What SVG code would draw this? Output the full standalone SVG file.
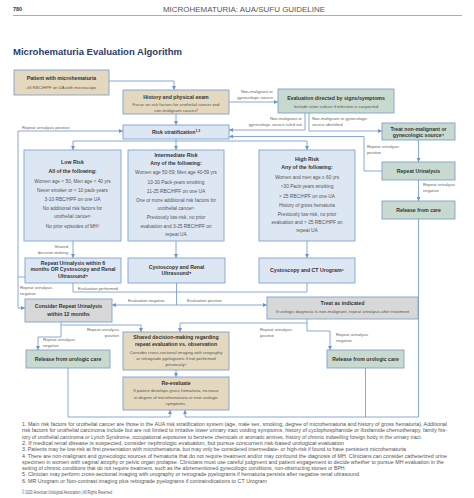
<svg xmlns="http://www.w3.org/2000/svg" width="474" height="498" viewBox="0 0 474 498">
<defs>
<style>
.bx{stroke:#7ea3d1;stroke-width:0.9}
.tan{fill:#e4d8be}.grn{fill:#c8d9cf}.blu{fill:#dde7f3}.gry{fill:#d8d8d8}
text{font-family:"Liberation Sans",Arial,sans-serif}
.h{font-size:5.2px;font-weight:bold;fill:#333;text-anchor:middle}
.b{font-size:4.3px;fill:#555;text-anchor:middle}
.r{font-size:4.8px;fill:#555;text-anchor:middle}
.l{font-size:4.2px;fill:#666}
.e{text-anchor:end}
.f{font-size:4.6px;fill:#555}
.c{fill:none;stroke:#7ba0cf;stroke-width:0.9}
</style>
<marker id="a" viewBox="0 0 6 6" refX="6" refY="3" markerWidth="4" markerHeight="4" orient="auto" markerUnits="userSpaceOnUse"><path d="M0,0 L6,3 L0,6z" fill="#6f96cc"/></marker>
</defs>
<rect width="474" height="498" fill="#fff"/>
<text x="13" y="11" style="font-size:5.5px;font-weight:bold;fill:#333">780</text>
<text x="244" y="11.5" style="font-size:6.8px;fill:#555;text-anchor:middle" textLength="162" lengthAdjust="spacingAndGlyphs">MICROHEMATURIA: AUA/SUFU GUIDELINE</text>
<line x1="13" y1="15.5" x2="462" y2="15.5" stroke="#999" stroke-width="0.8"/>
<text x="13" y="55" style="font-size:9.5px;font-weight:bold;fill:#2b3d6b" textLength="169" lengthAdjust="spacingAndGlyphs">Microhematuria Evaluation Algorithm</text>

<g id="connectors">
<path class="c" d="M109,81 H174 V90" marker-end="url(#a)"/>
<path class="c" d="M176,114 V125" marker-end="url(#a)"/>
<path class="c" d="M229,102 H278" marker-end="url(#a)"/>
<path class="c" d="M305,113 V130 H229" marker-end="url(#a)"/>
<path class="c" d="M309,113 V131 H382" marker-end="url(#a)"/>
<path class="c" d="M382,171 H364 V136.5 H229" marker-end="url(#a)"/>
<path class="c" d="M418.5,140 V162" marker-end="url(#a)"/>
<path class="c" d="M418.5,180 V201" marker-end="url(#a)"/>
<path class="c" d="M418.5,219 V417 H185 V410" marker-end="url(#a)"/>
<path class="c" d="M365.5,368 V417"/>
<path class="c" d="M68,368 V417 H170 V410" marker-end="url(#a)"/>
<path class="c" d="M176,139 V141"/>
<path class="c" d="M73,141 H307"/>
<path class="c" d="M73,141 V150" marker-end="url(#a)"/>
<path class="c" d="M176,141 V150" marker-end="url(#a)"/>
<path class="c" d="M307,141 V150" marker-end="url(#a)"/>
<path class="c" d="M73,241 V258" marker-end="url(#a)"/>
<path class="c" d="M176,241 V258" marker-end="url(#a)"/>
<path class="c" d="M307,241 V258" marker-end="url(#a)"/>
<path class="c" d="M25,277 H18 V131 H123" marker-end="url(#a)"/>
<path class="c" d="M18,277 V308 H25" marker-end="url(#a)"/>
<path class="c" d="M73,283 V292 H307 V283"/>
<path class="c" d="M176.5,283 V305 H112" marker-end="url(#a)"/>
<path class="c" d="M176.5,305 H267" marker-end="url(#a)"/>
<path class="c" d="M61,322 V325 H141 V332" marker-end="url(#a)"/>
<path class="c" d="M61,325 V337 H38 V350" marker-end="url(#a)"/>
<path class="c" d="M307,319 V323 H180 V332" marker-end="url(#a)"/>
<path class="c" d="M307,323 V331 H330 V350" marker-end="url(#a)"/>
<path class="c" d="M176,370 V377" marker-end="url(#a)"/>
</g>

<g id="labels">
<text class="l e" x="273" y="93">Non-malignant or</text>
<text class="l e" x="273" y="99">gynecologic source</text>
<text class="l e" x="302" y="120">Non-malignant or</text>
<text class="l e" x="302" y="126">gynecologic source ruled out</text>
<text class="l" x="312" y="120">Non-malignant or gynecologic</text>
<text class="l" x="312" y="126">source identified</text>
<text class="l" x="22" y="129">Repeat urinalysis positive</text>
<text class="l" x="367" y="148">Repeat urinalysis</text>
<text class="l" x="367" y="154">positive</text>
<text class="l" x="423" y="186">Repeat urinalysis</text>
<text class="l" x="423" y="192">negative</text>
<text class="l e" x="68" y="248">Shared</text>
<text class="l e" x="68" y="254">decision-making</text>
<text class="l" x="20" y="289">Repeat urinalysis</text>
<text class="l" x="20" y="295">negative</text>
<text class="l" x="78" y="290">Evaluation performed</text>
<text class="l" x="128" y="302">Evaluation negative</text>
<text class="l" x="187" y="302">Evaluation positive</text>
<text class="l e" x="119" y="331">Repeat urinalysis</text>
<text class="l e" x="119" y="337">positive</text>
<text class="l" x="43" y="341">Repeat urinalysis</text>
<text class="l" x="43" y="347">negative</text>
<text class="l" x="260" y="331">Repeat urinalysis</text>
<text class="l" x="260" y="337">positive</text>
<text class="l" x="336" y="336">Repeat urinalysis</text>
<text class="l" x="336" y="342">negative</text>
</g>

<g id="patient"><rect class="bx tan" x="14" y="70" width="95" height="25"/>
<text class="h" x="61.5" y="80">Patient with microhematuria</text>
<text class="b" x="61.5" y="88.5">≥3 RBC/HPF on UA with microscope</text></g>

<g id="history"><rect class="bx tan" x="123" y="90" width="106" height="24"/>
<text class="h" x="176" y="98.5">History and physical exam</text>
<text class="b" x="176" y="105.5">Focus on risk factors for urothelial cancer and</text>
<text class="b" x="176" y="111.5">non-malignant causes²</text></g>

<g id="evaluation"><rect class="bx grn" x="278" y="89" width="116" height="24"/>
<text class="h" x="336" y="99.5">Evaluation directed by signs/symptoms</text>
<text class="b" x="336" y="107.5">Include urine culture if infection is suspected</text></g>

<g id="risk"><rect class="bx blu" x="123" y="125" width="106" height="14"/>
<text class="h" x="176" y="134">Risk stratification<tspan font-size="3.4" dy="-1.8">1,3</tspan></text></g>

<g id="treat-nonmalignant"><rect class="bx grn" x="382" y="123" width="73" height="17"/>
<text class="h" x="418.5" y="130.5">Treat non-malignant or</text>
<text class="h" x="418.5" y="137">gynecologic source⁴</text></g>

<g id="repeat-ua"><rect class="bx grn" x="382" y="162" width="73" height="18"/>
<text class="h" x="418.5" y="172.8">Repeat Urinalysis</text></g>

<g id="release-care"><rect class="bx grn" x="382" y="201" width="73" height="18"/>
<text class="h" x="418.5" y="211.8">Release from care</text></g>

<g id="low"><rect class="bx blu" x="24" y="150" width="97" height="91"/>
<text class="h" x="72.5" y="164">Low Risk</text>
<text class="h" x="72.5" y="173">All of the following:</text>
<text class="r" x="72.5" y="182.5">Women age &lt; 50, Men age &lt; 40 yrs</text>
<text class="r" x="72.5" y="191.5">Never smoker or &lt; 10 pack-years</text>
<text class="r" x="72.5" y="200.5">3-10 RBC/HPF on one UA</text>
<text class="r" x="72.5" y="209.5">No additional risk factors for</text>
<text class="r" x="72.5" y="217.5">urothelial cancer¹</text>
<text class="r" x="72.5" y="227.5">No prior episodes of MH³</text></g>

<g id="intermediate"><rect class="bx blu" x="128" y="150" width="96" height="91"/>
<text class="h" x="176" y="157">Intermediate Risk</text>
<text class="h" x="176" y="165">Any of the following:</text>
<text class="r" x="176" y="174">Women age 50-59; Men age 40-59 yrs</text>
<text class="r" x="176" y="183.5">10-30 Pack-years smoking</text>
<text class="r" x="176" y="192.5">11-25 RBC/HPF on one UA</text>
<text class="r" x="176" y="202">One or more additional risk factors for</text>
<text class="r" x="176" y="210">urothelial cancer¹</text>
<text class="r" x="176" y="219">Previously low-risk, no prior</text>
<text class="r" x="176" y="227.5">evaluation and 3-25 RBC/HPF on</text>
<text class="r" x="176" y="236">repeat UA</text></g>

<g id="high"><rect class="bx blu" x="259" y="150" width="96" height="91"/>
<text class="h" x="307" y="161">High Risk</text>
<text class="h" x="307" y="169">Any of the following:</text>
<text class="r" x="307" y="178.5">Women and men age ≥ 60 yrs</text>
<text class="r" x="307" y="188">&gt;30 Pack-years smoking</text>
<text class="r" x="307" y="197.5">&gt; 25 RBC/HPF on one UA</text>
<text class="r" x="307" y="207">History of gross hematuria</text>
<text class="r" x="307" y="216">Previously low-risk, no prior</text>
<text class="r" x="307" y="224">evaluation and &gt; 25 RBC/HPF on</text>
<text class="r" x="307" y="232">repeat UA</text></g>

<g id="repeat-6"><rect class="bx blu" x="25" y="258" width="96" height="25"/>
<text class="h" x="73" y="264.5">Repeat Urinalysis within 6</text>
<text class="h" x="73" y="271">months OR Cystoscopy and Renal</text>
<text class="h" x="73" y="277.5">Ultrasound⁵</text></g>

<g id="cysto-renal"><rect class="bx blu" x="128" y="258" width="97" height="25"/>
<text class="h" x="176.5" y="268.5">Cystoscopy and Renal</text>
<text class="h" x="176.5" y="275">Ultrasound⁵</text></g>

<g id="cysto-ct"><rect class="bx blu" x="259" y="258" width="96" height="25"/>
<text class="h" x="307" y="272">Cystoscopy and CT Urogram⁶</text></g>

<g id="consider"><rect class="bx gry" x="25" y="299" width="87" height="23"/>
<text class="h" x="68.5" y="308">Consider Repeat Urinalysis</text>
<text class="h" x="68.5" y="315.5">within 12 months</text></g>

<g id="treat-indicated"><rect class="bx gry" x="267" y="297" width="151" height="22"/>
<text class="h" x="342.5" y="305">Treat as indicated</text>
<text class="b" x="342.5" y="313">If urologic diagnosis is non-malignant, repeat urinalysis after treatment</text></g>

<g id="shared"><rect class="bx tan" x="123" y="332" width="106" height="38"/>
<text class="h" x="176" y="339">Shared decision-making regarding</text>
<text class="h" x="176" y="346">repeat evaluation vs. observation</text>
<text class="b" x="176" y="353.5">Consider cross-sectional imaging with urography</text>
<text class="b" x="176" y="359.5">or retrograde pyelograms if not performed</text>
<text class="b" x="176" y="365.5">previously⁵</text></g>

<g id="release-left"><rect class="bx grn" x="26" y="350" width="84" height="18"/>
<text class="h" x="68" y="360.8">Release from urologic care</text></g>

<g id="release-right"><rect class="bx grn" x="327" y="350" width="77" height="18"/>
<text class="h" x="365.5" y="360.8">Release from urologic care</text></g>

<g id="reevaluate"><rect class="bx tan" x="123" y="377" width="106" height="33"/>
<text class="h" x="176" y="384.5">Re-evaluate</text>
<text class="b" x="176" y="392">If patient develops gross hematuria, increase</text>
<text class="b" x="176" y="398.5">in degree of microhematuria or new urologic</text>
<text class="b" x="176" y="405">symptoms.</text></g>

<g id="footnotes">
<text class="f" x="22" y="426" textLength="425" lengthAdjust="spacingAndGlyphs">1. Main risk factors for urothelial cancer are those in the AUA risk stratification system (age, male sex, smoking, degree of microhematuria and history of gross hematuria). Additional</text>
<text class="f" x="22" y="432.3" textLength="425" lengthAdjust="spacingAndGlyphs">risk factors for urothelial carcinoma include but are not limited to irritative lower urinary tract voiding symptoms, history of cyclophosphamide or ifosfamide chemotherapy, family his-</text>
<text class="f" x="22" y="438.6" textLength="400" lengthAdjust="spacingAndGlyphs">tory of urothelial carcinoma or Lynch Syndrome, occupational exposures to benzene chemicals or aromatic amines, history of chronic indwelling foreign body in the urinary tract.</text>
<text class="f" x="22" y="444.9" textLength="322" lengthAdjust="spacingAndGlyphs">2. If medical renal disease is suspected, consider nephrologic evaluation, but pursue concurrent risk-based urological evaluation</text>
<text class="f" x="22" y="451.2" textLength="384" lengthAdjust="spacingAndGlyphs">3. Patients may be low-risk at first presentation with microhematuria, but may only be considered intermediate- or high-risk if found to have persistent microhematuria</text>
<text class="f" x="22" y="457.5" textLength="425" lengthAdjust="spacingAndGlyphs">4. There are non-malignant and gynecologic sources of hematuria that do not require treatment and/or may confound the diagnosis of MH. Clinicians can consider catheterized urine</text>
<text class="f" x="22" y="463.8" textLength="422" lengthAdjust="spacingAndGlyphs">specimen in women with vaginal atrophy or pelvic organ prolapse. Clinicians must use careful judgment and patient engagement to decide whether to pursue MH evaluation in the</text>
<text class="f" x="22" y="470.1" textLength="324" lengthAdjust="spacingAndGlyphs">setting of chronic conditions that do not require treatment, such as the aforementioned gynecologic conditions, non-obstructing stones or BPH.</text>
<text class="f" x="22" y="476.4" textLength="337" lengthAdjust="spacingAndGlyphs">5. Clinician may perform cross-sectional imaging with urography or retrograde pyelograms if hematuria persists after negative renal ultrasound</text>
<text class="f" x="22" y="482.7" textLength="245" lengthAdjust="spacingAndGlyphs">6. MR Urogram or Non-contrast imaging plus retrograde pyelograms if contraindications to CT Urogram</text>
<text class="f" x="22" y="494" textLength="90" lengthAdjust="spacingAndGlyphs">© 2020 American Urological Association | All Rights Reserved</text>
</g>
</svg>
